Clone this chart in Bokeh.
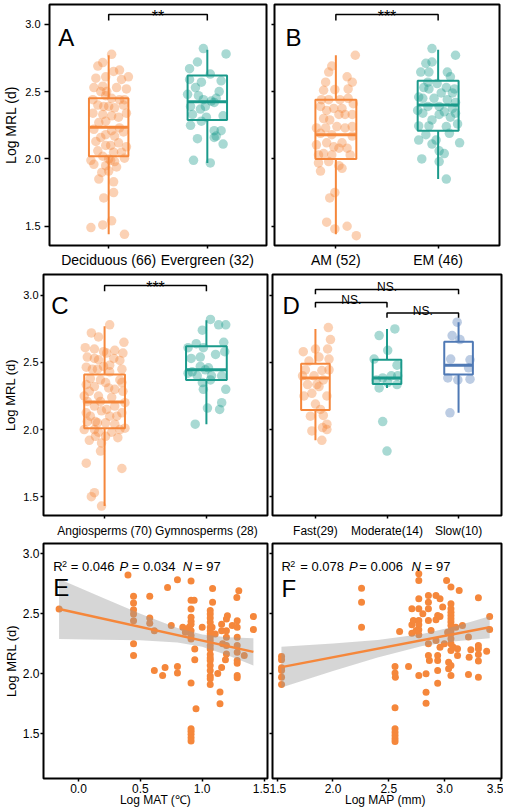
from bokeh.plotting import figure
from bokeh.layouts import column, row
from bokeh.models import (Range1d, FixedTicker, PrintfTickFormatter,
                          CustomJSTickFormatter, ColumnDataSource)
from bokeh.embed import file_html
from bokeh.resources import INLINE
from bokeh.core.properties import value

FONT = "Liberation Sans"
ORANGE = "#F5873B"
TEAL = "#1B9A8B"
BLUE = "#4F79B5"

# ---------------- data ----------------
# Panel A
A_cats = ["Deciduous (66)", "Evergreen (32)"]
A_low = [1.44, 1.97]
A_q1 = [2.02, 2.29]
A_med = [2.235, 2.424]
A_q3 = [2.45, 2.62]
A_high = [2.77, 2.81]
A_dec_y = [2.777, 2.716, 2.65, 2.60, 2.61, 2.53, 2.54, 2.53, 2.52, 2.47, 2.44, 2.40, 2.39, 2.38, 2.40,
           2.33, 2.32, 2.28, 2.22, 2.23, 2.18, 2.17, 2.13, 2.12, 2.10, 2.06, 2.05, 2.09, 1.99, 2.00,
           2.005, 1.96, 1.95, 1.98, 1.91, 1.90, 1.85, 1.83, 1.75, 1.71, 1.54, 1.51, 1.49, 1.44, 2.50,
           2.59, 2.44, 2.34, 2.27, 2.20, 2.21, 2.16, 2.10, 2.05, 2.02, 1.94, 2.50, 2.45, 2.34, 2.31,
           2.39, 2.44, 2.69, 2.66, 2.61, 1.99]
A_dec_dx = [0.03, -0.06, 0.05, -0.13, 0.20, -0.15, -0.06, 0.08, 0.18, -0.03, 0.11, -0.11, 0.0, 0.06, 0.15,
            -0.06, 0.03, -0.03, -0.15, 0.11, -0.03, 0.06, -0.13, 0.10, -0.03, -0.11, 0.05, 0.18, -0.18, 0.0,
            0.16, -0.15, -0.03, 0.06, 0.0, -0.07, -0.10, 0.05, 0.05, -0.05, 0.03, -0.06, -0.18, 0.16, -0.08,
            0.13, -0.16, 0.18, -0.10, 0.15, 0.03, -0.08, 0.02, 0.13, -0.06, 0.08, -0.02, 0.03, -0.16, 0.10,
            -0.05, 0.16, -0.11, 0.11, -0.03, 0.02]
A_eve_y = [2.82, 2.78, 2.72, 2.67, 2.63, 2.59, 2.57, 2.58, 2.48, 2.47, 2.45, 2.44, 2.39, 2.42, 2.33, 2.37,
           2.31, 2.32, 2.25, 2.28, 2.21, 2.21, 2.17, 2.11, 1.99, 1.97, 2.43, 2.53, 2.50, 2.39, 2.15, 2.16]
A_eve_dx = [-0.04, 0.19, -0.10, -0.18, 0.03, -0.18, -0.06, 0.14, -0.20, -0.09, 0.09, -0.04, -0.17, 0.07,
            -0.15, -0.07, -0.01, 0.16, -0.17, -0.06, 0.07, 0.14, 0.09, 0.16, -0.14, 0.03, 0.04, -0.12, 0.12,
            -0.02, -0.10, 0.07]

# Panel B
B_cats = ["AM (52)", "EM (46)"]
B_low = [1.44, 1.85]
B_q1 = [2.00, 2.21]
B_med = [2.18, 2.40]
B_q3 = [2.44, 2.58]
B_high = [2.77, 2.81]
B_am_y = [2.77, 2.69, 2.645, 2.61, 2.51, 2.515, 2.52, 2.44, 2.44, 2.39, 2.375, 2.33, 2.30, 2.33, 2.23,
          2.19, 2.18, 2.17, 2.105, 2.12, 2.12, 2.04, 2.03, 2.03, 1.97, 1.98, 1.93, 1.91, 1.75, 1.71, 1.53,
          1.50, 1.48, 1.43, 2.57, 2.57, 2.375, 2.23, 2.24, 2.24, 2.03, 2.08, 2.45, 2.44, 2.33, 2.29, 2.09,
          2.08, 2.23, 1.95, 2.41, 2.36]
B_am_dx = [0.19, -0.04, -0.07, 0.11, -0.12, -0.01, 0.12, -0.07, 0.04, -0.15, -0.02, 0.16, -0.12, 0.03,
           0.09, -0.15, -0.04, 0.16, -0.19, -0.09, 0.06, -0.12, -0.04, 0.14, -0.17, -0.07, 0.06, -0.15,
           -0.01, -0.06, -0.09, 0.11, -0.01, 0.20, 0.16, -0.10, 0.06, -0.10, 0.01, 0.16, -0.17, 0.03, 0.12,
           -0.14, 0.09, -0.06, -0.02, 0.11, -0.19, 0.03, 0.17, -0.09]
B_em_y = [2.82, 2.77, 2.72, 2.645, 2.645, 2.645, 2.61, 2.53, 2.52, 2.53, 2.52, 2.45, 2.45, 2.44, 2.42,
          2.39, 2.39, 2.375, 2.34, 2.33, 2.34, 2.245, 2.245, 2.24, 2.14, 2.11, 2.12, 2.06, 2.00, 1.98, 1.85,
          2.57, 2.56, 2.49, 2.36, 2.29, 2.26, 2.19, 2.18, 2.14, 2.35, 2.46, 2.71, 2.04, 2.31, 2.49]
B_em_dx = [-0.06, 0.17, -0.06, -0.17, -0.09, 0.09, 0.12, -0.14, -0.09, 0.08, 0.16, -0.15, -0.04, 0.09,
           0.17, -0.10, 0.01, 0.14, -0.15, 0.01, 0.17, -0.09, -0.19, 0.08, -0.19, -0.06, 0.21, 0.01, -0.16,
           0.01, 0.08, -0.10, -0.01, 0.14, -0.20, -0.06, 0.19, 0.11, -0.12, -0.02, 0.06, -0.19, -0.12, 0.06,
           0.12, 0.03]

# Panel C
C_cats = ["Angiosperms (70)", "Gymnosperms (28)"]
C_low = [1.43, 2.04]
C_q1 = [2.01, 2.37]
C_med = [2.205, 2.445]
C_q3 = [2.41, 2.62]
C_high = [2.77, 2.815]
C_ang_y = [2.78, 2.72, 2.69, 2.61, 2.60, 2.65, 2.54, 2.53, 2.53, 2.515, 2.47, 2.465, 2.45, 2.43, 2.45,
           2.38, 2.37, 2.37, 2.335, 2.32, 2.31, 2.35, 2.25, 2.21, 2.24, 2.20, 2.14, 2.125, 2.10, 2.06, 2.05,
           2.00, 2.00, 2.00, 2.01, 1.98, 1.98, 1.92, 1.90, 1.84, 1.75, 1.71, 1.53, 1.50, 1.43, 2.57, 2.10,
           2.10, 2.35, 2.30, 2.175, 2.175, 2.285, 2.285, 2.58, 2.59, 2.45, 2.21, 2.15, 2.125, 2.06, 2.04,
           1.95, 1.95, 1.94, 2.25, 2.48, 2.52, 2.57, 2.05]
C_ang_dx = [0.05, -0.13, -0.06, -0.19, -0.10, 0.19, -0.17, -0.10, 0.09, 0.15, -0.01, -0.18, -0.07, 0.05,
            0.17, -0.14, -0.04, 0.15, -0.18, -0.10, 0.04, 0.17, -0.06, -0.17, 0.07, 0.20, -0.03, -0.18, 0.05,
            -0.09, 0.01, -0.20, -0.10, 0.15, 0.20, 0.07, -0.06, -0.15, -0.03, -0.04, -0.18, 0.17, -0.10,
            -0.13, -0.03, 0.02, 0.12, -0.14, 0.01, 0.10, -0.10, 0.10, -0.15, 0.18, -0.01, 0.10, -0.12, -0.04,
            0.02, 0.17, -0.17, 0.10, 0.01, -0.09, 0.13, -0.20, 0.05, -0.06, 0.18, -0.07]
C_gym_y = [2.82, 2.74, 2.78, 2.78, 2.64, 2.61, 2.61, 2.65, 2.58, 2.42, 2.47, 2.46, 2.40, 2.40, 2.40, 2.43,
           2.445, 2.35, 2.37, 2.30, 2.30, 2.20, 2.15, 2.16, 2.04, 2.56, 2.53, 2.54]
C_gym_dx = [0.04, -0.04, 0.12, 0.19, -0.10, -0.18, -0.03, 0.17, 0.18, -0.18, -0.06, 0.02, -0.09, 0.05,
            0.15, -0.14, -0.01, -0.04, 0.04, -0.03, 0.19, 0.15, 0.13, 0.01, -0.11, 0.09, -0.15, -0.06]

# Panel D
D_cats = ["Fast(29)", "Moderate(14)", "Slow(10)"]
D_low = [1.92, 2.31, 2.125]
D_q1 = [2.145, 2.34, 2.41]
D_med = [2.385, 2.385, 2.48]
D_q3 = [2.49, 2.52, 2.655]
D_high = [2.75, 2.75, 2.80]
D_fast_y = [2.76, 2.60, 2.58, 2.60, 2.67, 2.525, 2.51, 2.54, 2.445, 2.44, 2.445, 2.40, 2.40, 2.37, 2.335,
            2.32, 2.27, 2.25, 2.25, 2.19, 2.15, 2.105, 2.10, 2.04, 2.015, 1.99, 2.00, 1.92, 2.335]
D_fast_dx = [0.18, 0.0, -0.17, 0.17, 0.21, 0.19, -0.09, 0.05, -0.14, 0.09, 0.19, -0.18, -0.02, 0.11,
             -0.11, 0.05, -0.05, -0.16, 0.16, 0.0, 0.07, 0.11, -0.07, 0.16, 0.10, -0.05, 0.16, 0.09, 0.02]
D_mod_y = [2.75, 2.70, 2.59, 2.525, 2.48, 2.40, 2.385, 2.37, 2.35, 2.31, 2.335, 2.06, 1.84, 2.40]
D_mod_dx = [0.11, -0.11, 0.01, -0.18, 0.14, 0.15, -0.06, -0.15, 0.01, -0.11, 0.14, -0.06, 0.0, 0.06]
D_slow_y = [2.80, 2.70, 2.67, 2.525, 2.52, 2.46, 2.385, 2.37, 2.375, 2.125]
D_slow_dx = [-0.02, -0.09, 0.02, -0.11, 0.16, 0.14, -0.15, -0.01, 0.16, -0.12]

# Panel E  (Log MAT vs Log MRL)
E_mat = [-0.157, 0.40, 0.445, 0.445, 0.445, 0.445, 0.445, 0.445, 0.576, 0.576, 0.576, 0.613, 0.613, 0.68,
         0.70, 0.72, 0.75, 0.80, 0.80, 0.80, 0.88, 0.895,
         0.91, 0.91, 0.91, 0.91, 0.91, 0.91, 0.91, 0.91, 0.91, 0.91, 0.91, 0.91, 0.91,
         0.935, 0.94, 0.94, 0.95,
         1.065, 1.065, 1.065, 1.065, 1.065, 1.065, 1.065, 1.065, 1.065, 1.065, 1.065, 1.065, 1.065, 1.065,
         1.084, 1.084, 1.08, 1.126, 1.144, 1.144, 1.157, 1.157, 1.196, 1.204, 1.196, 1.196, 1.196, 1.188,
         1.243, 1.28, 1.296, 1.283, 1.283, 1.283, 1.283, 1.283, 1.283, 1.283, 1.34, 1.414, 1.414,
         0.91, 0.91, 1.065, 1.065, 1.065, 1.065, 1.065, 0.843, 0.864, 1.157, 1.165, 1.283, 1.283, 0.445,
         1.0, 1.105, 1.196]
E_mrl = [2.537, 2.82, 2.643, 2.587, 2.532, 2.44, 2.247, 2.15, 2.643, 2.463, 2.418, 2.357, 2.025, 1.983,
         2.05, 2.717, 2.40, 2.78, 2.058, 2.003, 2.357, 2.385,
         2.77, 2.61, 2.537, 2.435, 2.41, 2.357, 2.316, 1.92, 1.54, 1.518, 1.493, 1.465, 1.438,
         2.61, 2.205, 2.114, 1.706,
         2.524, 2.496, 2.463, 2.427, 2.385, 2.33, 2.274, 2.205, 2.158, 2.108, 2.066, 2.025, 1.978, 1.909,
         2.709, 2.593, 2.385, 2.0, 1.845, 1.748, 2.41, 2.05, 2.454, 2.482, 2.302, 2.233, 2.163, 2.114,
         2.399, 2.634, 2.69, 2.385, 2.302, 2.233, 2.177, 2.108, 1.983, 1.964, 2.15, 2.474, 2.366,
         2.468, 2.288, 2.357, 2.302, 2.233, 2.13, 1.956, 2.385, 2.343, 2.357, 2.247, 2.44, 2.086, 2.496,
         2.385, 2.33, 2.357]
E_fit_x = [-0.157, 1.414]
E_fit_y = [2.537, 2.180]
E_band_x = [-0.157, 0.2, 0.5, 0.8, 1.0, 1.2, 1.414]
E_band_lo = [2.287, 2.282, 2.276, 2.258, 2.222, 2.154, 2.067]
E_band_hi = [2.787, 2.628, 2.498, 2.378, 2.324, 2.302, 2.293]
E_stats = ["0.046", "0.034", "97"]

# Panel F  (Log MAP vs Log MRL)
F_map = [1.539, 1.539, 1.539, 1.539, 1.539, 1.539, 2.256, 2.256, 2.256,
         2.556, 2.556, 2.556, 2.556, 2.556, 2.556, 2.556, 2.556, 2.597, 2.677, 2.707, 2.707, 2.707, 2.72,
         2.769, 2.769, 2.769, 2.769, 2.769, 2.769, 2.769, 2.769, 2.769, 2.834, 2.834, 2.834,
         2.855, 2.855, 2.855, 2.855, 2.855, 2.855, 2.923, 2.923, 2.923, 2.938, 2.938, 2.938, 2.938, 2.938,
         2.959, 2.959, 2.959, 3.018, 3.036, 3.036,
         3.057, 3.057, 3.057, 3.057, 3.057, 3.057, 3.057, 3.057, 3.057, 3.057, 3.057, 3.057, 3.057, 3.057,
         3.116, 3.116, 3.131, 3.16, 3.214, 3.214, 3.235, 3.303, 3.303, 3.303, 3.303, 3.303, 3.377, 3.404,
         3.404, 2.983, 3.027, 2.805, 2.879, 3.057, 3.101, 2.745, 2.998, 3.22, 3.303, 2.559, 2.864, 3.078]
F_mrl = [2.142, 2.114, 2.047, 2.025, 1.969, 1.908, 2.711, 2.594, 2.386,
         2.058, 2.003, 1.714, 1.539, 1.511, 1.483, 1.456, 1.433, 2.35, 2.058, 2.539, 2.406, 2.336, 2.442,
         2.83, 2.775, 2.622, 2.539, 2.442, 2.406, 2.364, 2.322, 1.983, 1.997, 1.844, 1.753,
         2.65, 2.594, 2.539, 2.442, 2.247, 2.15, 2.65, 2.447, 2.275, 2.483, 2.15, 2.108, 2.025, 1.919,
         2.622, 2.475, 2.219, 2.775, 2.094, 2.039,
         2.72, 2.539, 2.511, 2.483, 2.456, 2.428, 2.4, 2.358, 2.331, 2.289, 2.247, 2.192, 2.067, 1.983,
         2.206, 2.15, 2.692, 2.4, 2.303, 1.992, 2.197, 2.631, 2.206, 2.158, 2.103, 1.969, 2.186, 2.475,
         2.367, 2.553, 2.344, 2.497, 2.358, 2.581, 2.386, 2.358, 2.247, 2.136, 2.233, 1.969, 2.108, 2.219]
F_fit_x = [1.538, 3.404]
F_fit_y = [2.053, 2.386]
F_band_x = [1.538, 2.0, 2.4, 2.8, 3.1, 3.404]
F_band_lo = [1.883, 2.020, 2.134, 2.228, 2.268, 2.293]
F_band_hi = [2.223, 2.250, 2.278, 2.328, 2.394, 2.477]
F_stats = ["0.078", "0.006", "97"]

Y_TICKS = [1.5, 2.0, 2.5, 3.0]


# ---------------- helpers ----------------
def base_fig(w, h, xr, yr, ml, mr, mt, mb):
    p = figure(width=w, height=h, x_range=xr, y_range=yr, output_backend="svg",
               toolbar_location=None, tools="", min_border_left=ml, min_border_right=mr,
               min_border_top=mt, min_border_bottom=mb)
    p.outline_line_color = "black"
    p.outline_line_width = 2
    p.outline_line_alpha = 1.0
    p.xgrid.visible = False
    p.ygrid.visible = False
    p.background_fill_color = "white"
    p.border_fill_color = "white"
    for ax in (p.xaxis[0], p.yaxis[0]):
        ax.axis_line_color = None
        ax.major_tick_in = 0
        ax.major_tick_out = 3
        ax.major_tick_line_color = "black"
        ax.major_tick_line_width = 1.5
        ax.minor_tick_line_color = None
        ax.major_label_text_font = FONT
        ax.major_label_text_color = "black"
        ax.axis_label_text_font = FONT
        ax.axis_label_text_font_style = "normal"
        ax.axis_label_text_color = "black"
    return p


def y_axis(p, labelled, tick_out, tick_font, standoff, label_font=None, label_standoff=2):
    ax = p.yaxis[0]
    ax.ticker = FixedTicker(ticks=Y_TICKS)
    ax.major_tick_out = tick_out
    if labelled:
        ax.formatter = PrintfTickFormatter(format="%.1f")
        ax.major_label_text_font_size = tick_font
        ax.major_label_standoff = standoff
        ax.axis_label = "Log MRL (d)"
        ax.axis_label_text_font_size = label_font
        ax.axis_label_standoff = label_standoff
    else:
        ax.formatter = CustomJSTickFormatter(code="return ''")
        ax.major_label_standoff = 0


def txt(p, x, y, s, size, align="left", style="normal"):
    p.text(x=[x], y=[y], text=[s], text_font=value(FONT), text_font_size=size,
           text_align=align, text_baseline="alphabetic", text_color="black",
           text_font_style=style)


def box_panel(p, cats, low, q1, med, q3, high, colors, groups, label_font, label_standoff):
    n = len(cats)
    pos = list(range(1, n + 1))
    src = ColumnDataSource(dict(x=pos, low=low, q1=q1, med=med, q3=q3, high=high, color=colors))
    p.segment(x0="x", y0="q3", x1="x", y1="high", line_color="color", line_width=2, source=src)
    p.segment(x0="x", y0="low", x1="x", y1="q1", line_color="color", line_width=2, source=src)
    p.vbar(x="x", width=0.4, bottom="q1", top="q3", fill_color=None, line_color="color",
           line_width=2, source=src)
    p.rect(x="x", y="med", width=0.4, height=3, height_units="screen", fill_color="color",
           line_color=None, source=src)
    for i, (dx, ys) in enumerate(groups):
        xs = [pos[i] + d for d, _ in zip(dx, ys)]
        yy = [v for _, v in zip(dx, ys)]
        p.scatter(xs, yy, size=9.5, fill_color=colors[i], fill_alpha=0.38, line_color=None)
    ax = p.xaxis[0]
    ax.ticker = FixedTicker(ticks=pos)
    ax.major_label_overrides = {k: c for k, c in zip(pos, cats)}
    ax.major_label_text_font_size = label_font
    ax.major_label_standoff = label_standoff


def bracket(p, x0, x1, ytop, ybot, label, y_text, size):
    p.multi_line(xs=[[x0, x0, x1, x1]], ys=[[ybot, ytop, ytop, ybot]], line_color="black",
                 line_width=1.5)
    txt(p, (x0 + x1) / 2, y_text, label, size, align="center")


# ---------------- Panel A ----------------
pA = base_fig(270, 270, Range1d(0.4, 2.6), Range1d(1.357, 3.147), 43, 4, 4, 23)
y_axis(pA, True, 5, "11px", 4, "14px", 3)
box_panel(pA, A_cats, A_low, A_q1, A_med, A_q3, A_high, [ORANGE, TEAL],
          [(A_dec_dx, A_dec_y), (A_eve_dx, A_eve_y)], "14px", 3)
bracket(pA, 1, 2, 3.0735, 3.029, "**", 3.056, "16px")
txt(pA, 0.489, 2.904, "A", "24px")

# ---------------- Panel B ----------------
pB = base_fig(233, 270, Range1d(0.4, 2.6), Range1d(1.357, 3.147), 4, 4, 4, 23)
y_axis(pB, False, 3, None, 0)
box_panel(pB, B_cats, B_low, B_q1, B_med, B_q3, B_high, [ORANGE, TEAL],
          [(B_am_dx, B_am_y), (B_em_dx, B_em_y)], "14px", 3)
bracket(pB, 1, 2, 3.0735, 3.029, "***", 3.056, "16px")
txt(pB, 0.508, 2.904, "B", "24px")

# ---------------- Panel C ----------------
pC = base_fig(269, 270, Range1d(0.4, 2.6), Range1d(1.36, 3.155), 37, 2, 4, 23)
y_axis(pC, True, 3, "11px", 2, "13px", 2)
box_panel(pC, C_cats, C_low, C_q1, C_med, C_q3, C_high, [ORANGE, TEAL],
          [(C_ang_dx, C_ang_y), (C_gym_dx, C_gym_y)], "12px", 5)
bracket(pC, 1, 2, 3.074, 3.03, "***", 3.056, "16px")
txt(pC, 0.477, 2.926, "C", "24px")

# ---------------- Panel D ----------------
pD = base_fig(234, 270, Range1d(0.4, 3.6), Range1d(1.36, 3.155), 3, 2, 4, 23)
y_axis(pD, False, 3, None, 0)
box_panel(pD, D_cats, D_low, D_q1, D_med, D_q3, D_high, [ORANGE, TEAL, BLUE],
          [(D_fast_dx, D_fast_y), (D_mod_dx, D_mod_y), (D_slow_dx, D_slow_y)], "12px", 5)
bracket(pD, 1, 3, 3.044, 3.007, "NS.", 3.063, "12px")
bracket(pD, 1, 2, 2.946, 2.909, "NS.", 2.963, "12px")
bracket(pD, 2, 3, 2.869, 2.832, "NS.", 2.884, "12px")
txt(pD, 0.54, 2.926, "D", "24px")


# ---------------- Panels E / F ----------------
def scatter_panel(p, xs, ys, fx, fy, bx, blo, bhi):
    p.scatter(xs, ys, size=7, fill_color=ORANGE, fill_alpha=1.0, line_color=None)
    p.varea(x=bx, y1=blo, y2=bhi, fill_color="#999999", fill_alpha=0.4)
    p.line(fx, fy, line_color=ORANGE, line_width=2.5)


def stats_text(p, xpos, stats):
    # xpos: R, 2, "= r2", P, "= p", N, "= n"
    txt(p, xpos[0], 2.892, "R", "13px")
    txt(p, xpos[1], 2.914, "2", "9px")
    txt(p, xpos[2], 2.892, "= " + stats[0], "13px")
    txt(p, xpos[3], 2.892, "P", "13px", style="italic")
    txt(p, xpos[4], 2.892, "= " + stats[1], "13px")
    txt(p, xpos[5], 2.892, "N", "13px", style="italic")
    txt(p, xpos[6], 2.892, "= " + stats[2], "13px")


pE = base_fig(269, 270, Range1d(-0.283, 1.528), Range1d(1.125, 3.083), 37, 2, 3, 32)
y_axis(pE, True, 3, "12px", 1, "13px", 1)
scatter_panel(pE, E_mat, E_mrl, E_fit_x, E_fit_y, E_band_x, E_band_lo, E_band_hi)
axE = pE.xaxis[0]
axE.ticker = FixedTicker(ticks=[0.0, 0.5, 1.0, 1.5])
axE.formatter = PrintfTickFormatter(format="%.1f")
axE.major_label_text_font_size = "12px"
axE.major_label_standoff = 2
axE.axis_label = "Log MAT (\u2103)"
axE.axis_label_text_font_size = "12px"
axE.axis_label_standoff = -3
stats_text(pE, [-0.205, -0.134, -0.063, 0.331, 0.43, 0.843, 0.942], E_stats)
txt(pE, -0.205, 2.717, "E", "24px")

pF = base_fig(234, 270, Range1d(1.458, 3.51), Range1d(1.125, 3.083), 3, 2, 3, 32)
y_axis(pF, False, 3, None, 0)
scatter_panel(pF, F_map, F_mrl, F_fit_x, F_fit_y, F_band_x, F_band_lo, F_band_hi)
axF = pF.xaxis[0]
axF.ticker = FixedTicker(ticks=[1.5, 2.0, 2.5, 3.0, 3.5])
axF.formatter = PrintfTickFormatter(format="%.1f")
axF.major_label_text_font_size = "12px"
axF.major_label_standoff = 2
axF.axis_label = "Log MAP  (mm)"
axF.axis_label_text_font_size = "12px"
axF.axis_label_standoff = -3
stats_text(pF, [1.538, 1.618, 1.707, 2.143, 2.236, 2.703, 2.823], F_stats)
txt(pF, 1.538, 2.708, "F", "24px")

layout = column(row(pA, pB), row(pC, pD), row(pE, pF))

open("out.html", "w").write(file_html(layout, INLINE))
